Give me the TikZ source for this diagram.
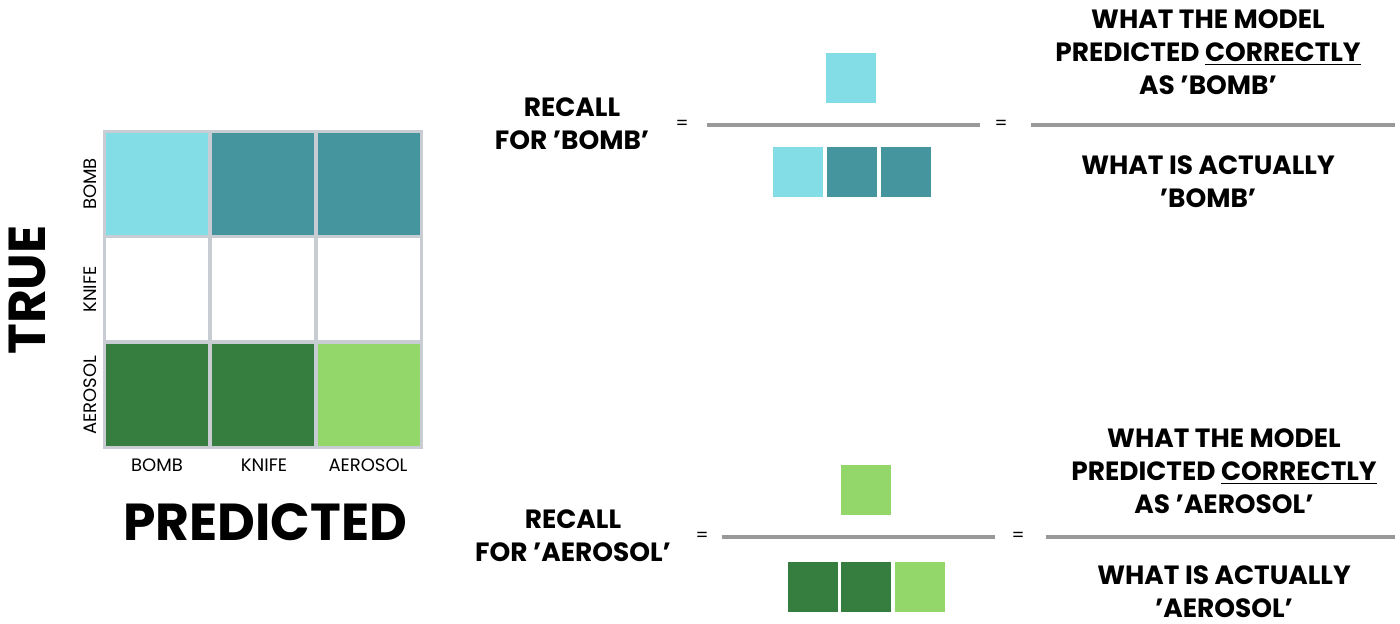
\documentclass[tikz,border=0pt]{standalone}
\usepackage{fontspec}
\setmainfont{Poppins}[Ligatures=ResetAll]
\newcommand\qq{\char"27\relax}
\begin{document}
\begin{tikzpicture}[x=0.5pt,y=-0.5pt,
  cell/.style={minimum size=51pt,inner sep=0pt,draw=none},
  sq/.style={minimum size=25pt,inner sep=0pt,draw=none},
  lbl/.style={font=\fontsize{9}{10}\selectfont},
  big/.style={font=\bfseries\fontsize{26}{30}\selectfont},
  eq/.style={font=\bfseries\fontsize{13.2}{16.5}\selectfont,align=center},
  sm/.style={font=\fontsize{9}{10}\selectfont},
  frac/.style={line width=2pt,draw=gray!80}]
\useasboundingbox (0,0) rectangle (1400,624);
\definecolor{lc}{HTML}{83DDE6}\definecolor{tc}{HTML}{45959E}
\definecolor{dg}{HTML}{367D40}\definecolor{lg}{HTML}{93D66A}
\definecolor{gr}{HTML}{C8CDD3}
\fill[gr] (103,130) rectangle (423,449);
\node[cell,fill=lc] (c11) at (157,184) {};
\node[cell,fill=tc] (c12) at (262.5,184) {};
\node[cell,fill=tc] (c13) at (368.5,184) {};
\node[cell,fill=white] (c21) at (157,289.5) {};
\node[cell,fill=white] (c22) at (262.5,289.5) {};
\node[cell,fill=white] (c23) at (368.5,289.5) {};
\node[cell,fill=dg] (c31) at (157,395) {};
\node[cell,fill=dg] (c32) at (262.5,395) {};
\node[cell,fill=lg] (c33) at (368.5,395) {};
\node[lbl,rotate=90] (r1) at (90,184) {BOMB};
\node[lbl,rotate=90] (r2) at (90,289.5) {KNIFE};
\node[lbl,rotate=90] (r3) at (90,395) {AEROSOL};
\node[lbl] (k1) at (157,465) {BOMB};
\node[lbl] (k2) at (264,465) {KNIFE};
\node[lbl] (k3) at (368,465) {AEROSOL};
\node[big,rotate=90] (true) at (27,290) {TRUE};
\node[big] (pred) at (265,522) {PREDICTED};
% top
\node[eq] (rb) at (572,124) {RECALL\\FOR \qq BOMB\qq};
\node[sm] (e1) at (682,125) {=};
\draw[frac] (707,125) coordinate (l1a) -- (980,125) coordinate (l1b);
\node[sq,fill=lc] (t1) at (851,78) {};
\node[sq,fill=lc] (b1) at (798,172) {};
\node[sq,fill=tc] (b2) at (852,172) {};
\node[sq,fill=tc] (b3) at (906,172) {};
\node[sm] (e2) at (1001,125) {=};
\draw[frac] (1031,125) coordinate (l2a) -- (1395,125) coordinate (l2b);
\node[eq] (n1) at (1208,52) {WHAT THE MODEL\\PREDICTED \underline{CORRECTLY}\\AS \qq BOMB\qq};
\node[eq] (d1) at (1208,182) {WHAT IS ACTUALLY\\\qq BOMB\qq};
% bottom
\node[eq] (ra) at (573,536) {RECALL\\FOR \qq AEROSOL\qq};
\node[sm] (e3) at (702,537) {=};
\draw[frac] (722,537) coordinate (l3a) -- (995,537) coordinate (l3b);
\node[sq,fill=lg] (t2) at (866,490) {};
\node[sq,fill=dg] (b4) at (813,587) {};
\node[sq,fill=dg] (b5) at (866,587) {};
\node[sq,fill=lg] (b6) at (920,587) {};
\node[sm] (e4) at (1018,537) {=};
\draw[frac] (1046,537) coordinate (l4a) -- (1395,537) coordinate (l4b);
\node[eq] (n2) at (1224,471) {WHAT THE MODEL\\PREDICTED \underline{CORRECTLY}\\AS \qq AEROSOL\qq};
\node[eq] (d2) at (1224,592) {WHAT IS ACTUALLY\\\qq AEROSOL\qq};
\end{tikzpicture}
\end{document}
